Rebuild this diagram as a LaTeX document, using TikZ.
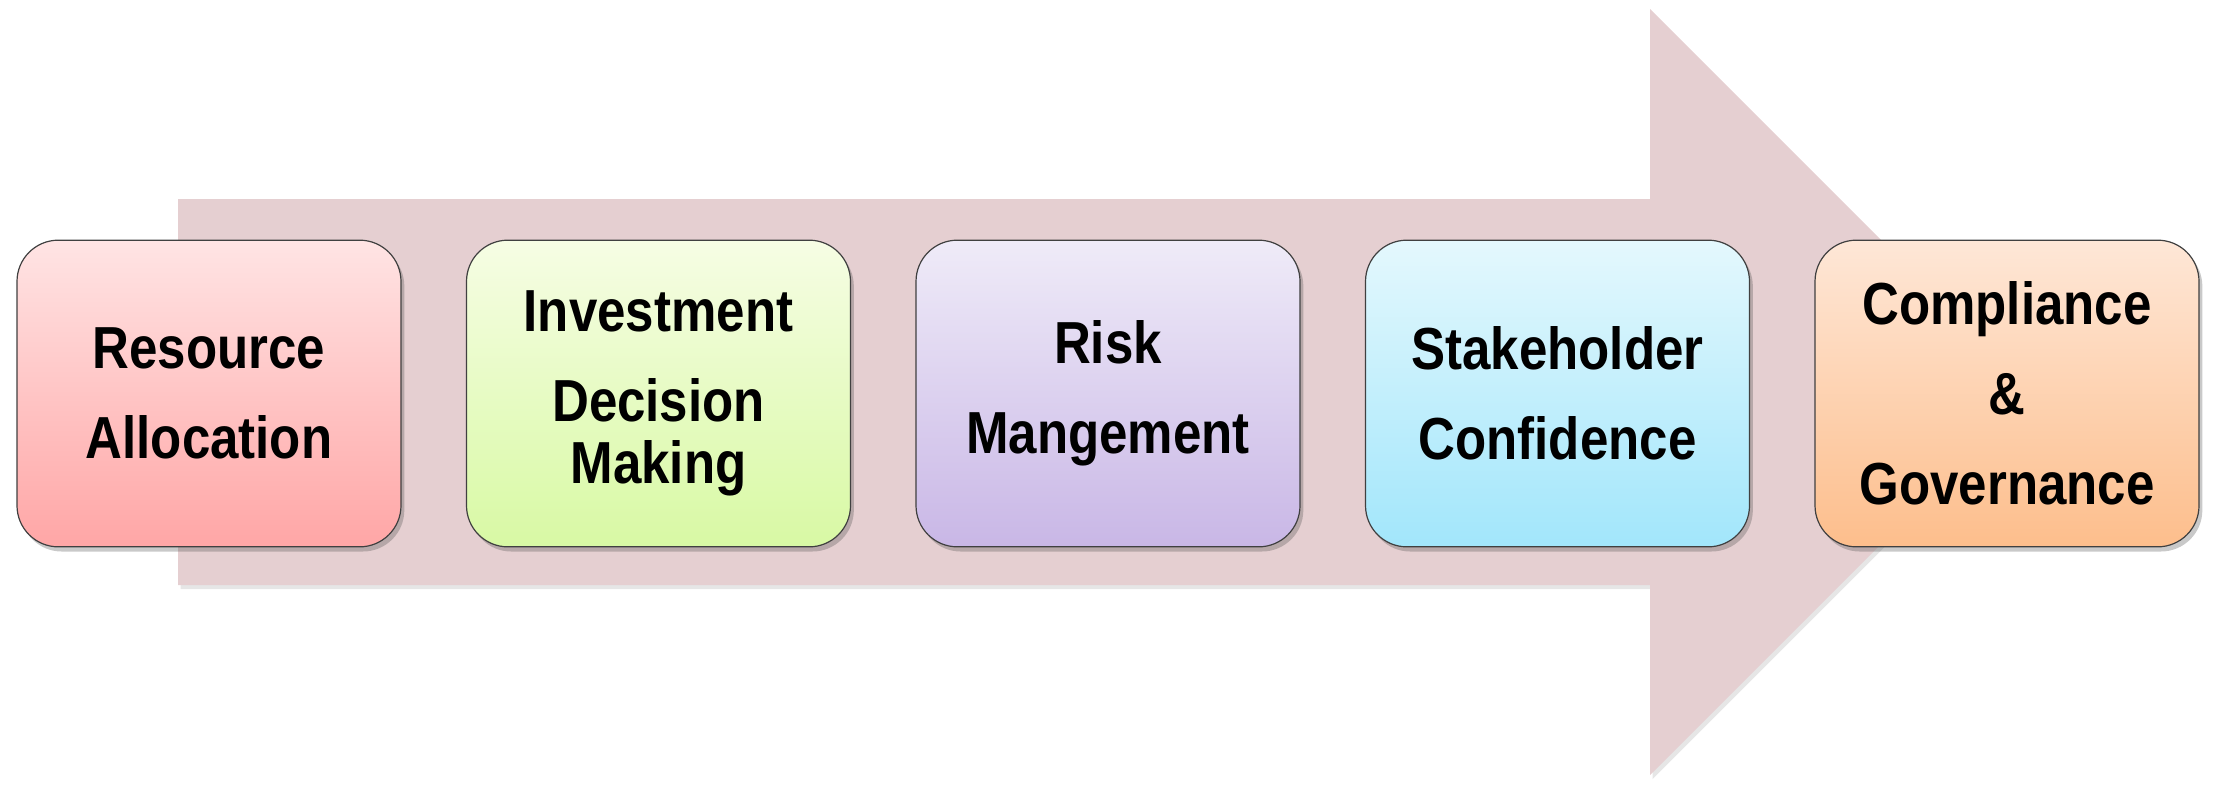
\documentclass[tikz,border=0pt]{standalone}
\usepackage{fontspec}
\usetikzlibrary{shadows}
\newfontfamily\boxfont[FakeStretch=0.86]{Liberation Sans}
\definecolor{flowpink}{HTML}{E5CFD1}
\tikzset{
  stagebox/.style={draw=black!75, line width=0.9pt, rounded corners=31pt,
    minimum width=288pt, minimum height=230pt, inner sep=0pt, align=center,
    font=\boxfont\bfseries\fontsize{44.5}{67.5}\selectfont,
    drop shadow={shadow xshift=2.5pt, shadow yshift=-3.5pt, opacity=0.3, fill=black!70}},
}
\begin{document}
\begin{tikzpicture}[x=0.75pt, y=-0.75pt]
\useasboundingbox (0,0) rectangle (2216,800);
% big arrow behind the stages
\fill[flowpink, drop shadow={shadow xshift=2pt, shadow yshift=-3pt, opacity=0.2, fill=black!50}]
  (178,199) -- (1650,199) -- (1650,9) -- (2033,392) -- (1650,775) -- (1650,585) -- (178,585) -- cycle;
\node[stagebox, top color={rgb,255:red,255;green,228;blue,228}, bottom color={rgb,255:red,255;green,166;blue,166}] (alloc) at (209,393.5) {Resource\\Allocation};
\node[stagebox, top color={rgb,255:red,246;green,253;blue,228}, bottom color={rgb,255:red,216;green,249;blue,164}] (invest) at (658.5,393.5) {Investment\\Decision\\[-20.5pt]Making};
\node[stagebox, top color={rgb,255:red,239;green,235;blue,248}, bottom color={rgb,255:red,201;green,183;blue,230}] (risk) at (1108,393.5) {Risk\\Mangement};
\node[stagebox, top color={rgb,255:red,228;green,248;blue,253}, bottom color={rgb,255:red,162;green,230;blue,251}] (stake) at (1557.5,393.5) {Stakeholder\\Confidence};
\node[stagebox, top color={rgb,255:red,254;green,231;blue,215}, bottom color={rgb,255:red,253;green,190;blue,140}] (govern) at (2007,393.5) {Compliance\\\&\\Governance};
\end{tikzpicture}
\end{document}
